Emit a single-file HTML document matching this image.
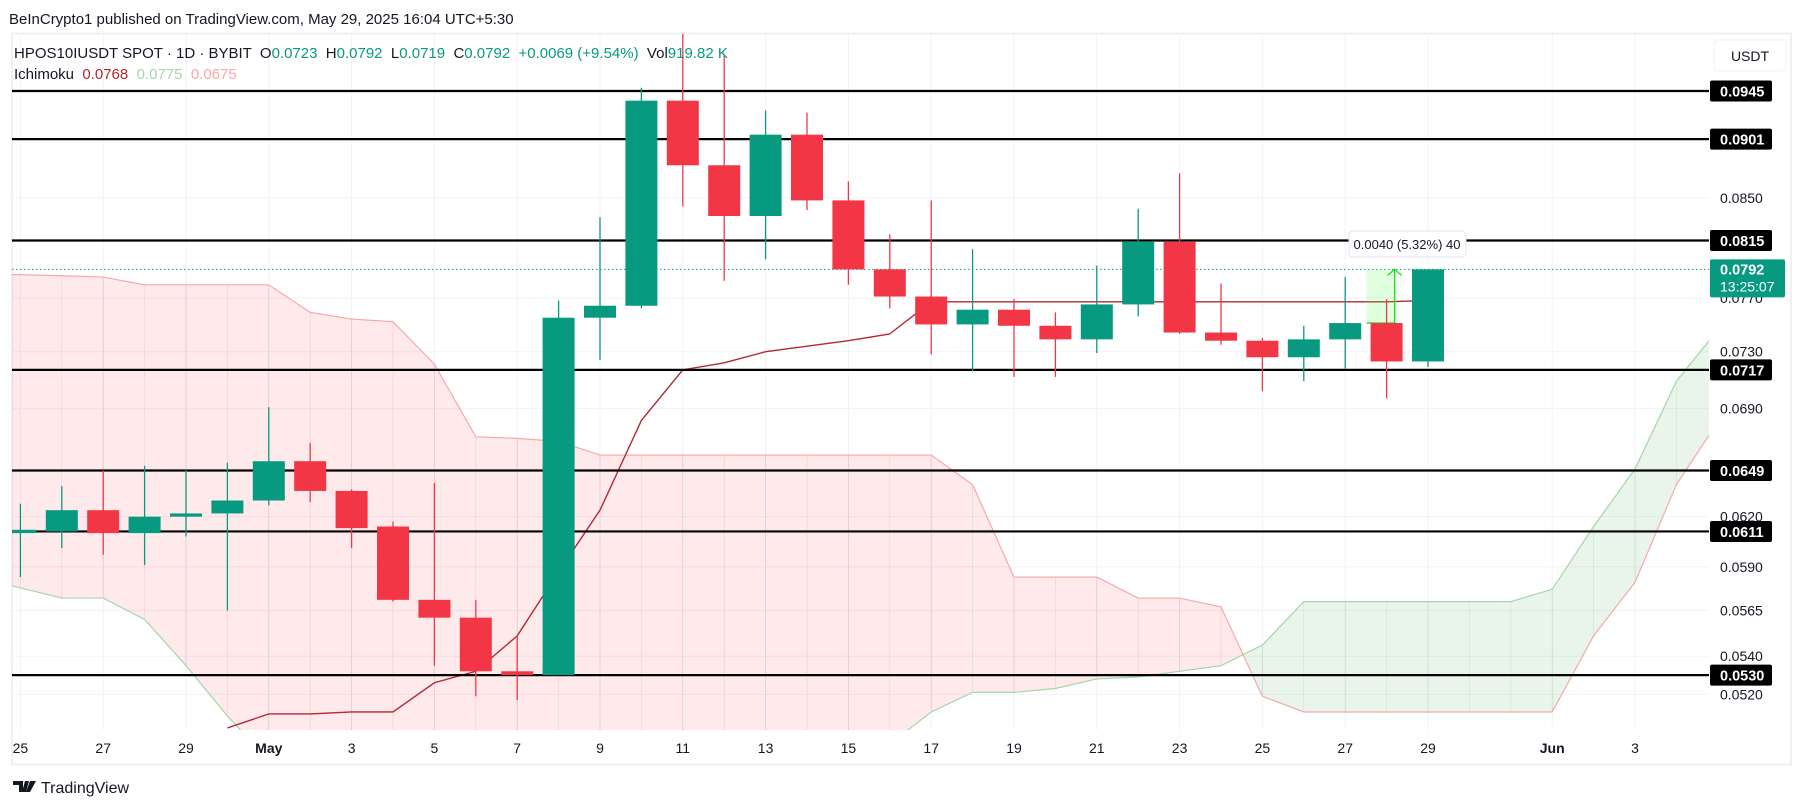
<!DOCTYPE html>
<html><head><meta charset="utf-8"><style>
body{margin:0;background:#fff;width:1804px;height:809px;overflow:hidden;font-family:"Liberation Sans",sans-serif}
svg{position:absolute;left:0;top:0}
.pre{white-space:pre}
</style></head><body>
<svg id="c" width="1804" height="809">
<defs><clipPath id="pc"><rect x="12" y="34" width="1697" height="696"/></clipPath></defs>
<text x="9" y="24" font-size="15" fill="#131722">BeInCrypto1 published on TradingView.com, May 29, 2025 16:04 UTC+5:30</text>
<rect x="12" y="33.5" width="1779" height="731" fill="none" stroke="#eef0f3" stroke-width="2"/>
<g id="grid"></g>
<g id="plot" clip-path="url(#pc)"></g>
<g id="axis"></g>
<text class="pre" x="14" y="58" font-size="15" fill="#131722">HPOS10IUSDT SPOT · 1D · BYBIT  O<tspan fill="#089981">0.0723</tspan>  H<tspan fill="#089981">0.0792</tspan>  L<tspan fill="#089981">0.0719</tspan>  C<tspan fill="#089981">0.0792  +0.0069 (+9.54%)</tspan>  Vol<tspan fill="#089981">919.82 K</tspan></text>
<text class="pre" x="14" y="79" font-size="15" fill="#131722">Ichimoku  <tspan fill="#b22833">0.0768</tspan>  <tspan fill="#a5d6a7">0.0775</tspan>  <tspan fill="#f7a9a7">0.0675</tspan></text>
<rect x="1714" y="40" width="72" height="31" rx="4" fill="#fff" stroke="#eef0f3"/>
<text x="1750" y="61" font-size="14" text-anchor="middle" fill="#131722">USDT</text>
<g><path d="M13 781h10v11h-4v-7h-6z M25 781h4l-3 11h-4z M30 781h6l-6 11h-4z" fill="#131722"/>
<text x="41" y="793" font-size="16" fill="#131722">TradingView</text></g>
</svg>
<script>
const dates=['25','27','29','May','3','5','7','9','11','13','15','17','19','21','23','25','27','29','Jun','3'];
const dateIdx=[0,2,4,6,8,10,12,14,16,18,20,22,24,26,28,30,32,34,37,39];
const openV=[.0610,.0611,.0624,.0610,.0620,.0622,.0630,.0655,.0636,.0614,.0571,.0561,.0532,.0530,.0755,.0764,.0936,.0878,.0835,.0905,.0848,.0792,.0771,.0750,.0761,.0749,.0739,.0765,.0814,.0744,.0738,.0726,.0739,.0751,.0723];
const highV=[.0628,.0639,.0649,.0652,.0650,.0654,.0691,.0667,.0637,.0617,.0641,.0571,.0551,.0768,.0834,.0948,.1000,.0980,.0927,.0925,.0864,.0820,.0848,.0808,.0769,.0759,.0795,.0841,.0871,.0781,.0740,.0749,.0786,.0769,.0792];
const lowV=[.0584,.0601,.0597,.0591,.0608,.0565,.0627,.0629,.0601,.0570,.0535,.0519,.0517,.0530,.0724,.0762,.0843,.0783,.0800,.0840,.0780,.0762,.0728,.0716,.0712,.0712,.0729,.0756,.0743,.0735,.0702,.0709,.0718,.0697,.0719];
const closeV=[.0612,.0624,.0610,.0620,.0622,.0630,.0655,.0636,.0613,.0571,.0561,.0532,.0530,.0755,.0764,.0936,.0878,.0835,.0905,.0848,.0792,.0771,.0750,.0761,.0749,.0739,.0765,.0814,.0744,.0738,.0726,.0739,.0751,.0723,.0792];
const kijun=[null,null,null,null,null,.0503,.0510,.0510,.0511,.0511,.0526,.0532,.0551,.0587,.0624,.0682,.0717,.0722,.0730,.0734,.0738,.0743,.0767,.0767,.0767,.0767,.0767,.0767,.0767,.0767,.0767,.0767,.0767,.0767,.0768];
const spanA=[.0579,.0572,.0572,.0560,.0535,.0509,.0487,.0476,.0471,.0471,.0471,.0471,.0471,.0471,.0471,.0471,.0471,.0471,.0471,.0471,.0481,.0495,.0511,.0521,.0521,.0523,.0528,.0529,.0532,.0535,.0546,.0570,.0570,.0570,.0570,.0570,.0570,.0577,.0614,.0650,.0709,.0746];
const spanB=[.0788,.0787,.0786,.0780,.0780,.0780,.0780,.0759,.0754,.0752,.0721,.0671,.0670,.0668,.0659,.0659,.0659,.0659,.0659,.0659,.0659,.0659,.0659,.0640,.0584,.0584,.0584,.0572,.0572,.0567,.0519,.0511,.0511,.0511,.0511,.0511,.0511,.0511,.0551,.0581,.0640,.0681];
const levels=[0.0945,0.0901,0.0815,0.0717,0.0649,0.0611,0.0530];
const ticks=['0.0850','0.0770','0.0730','0.0690','0.0620','0.0590','0.0565','0.0540','0.0520'];
const lastPrice=0.0792;
const NS='http://www.w3.org/2000/svg';
const X=d=>20.4+41.4*d;
const Y=v=>91+(Math.log(0.0945)-Math.log(v))*1010;
function mk(p,t,a){const e=document.createElementNS(NS,t);for(const k in a)e.setAttribute(k,a[k]);p.appendChild(e);return e;}
const grid=document.getElementById('grid'),plot=document.getElementById('plot'),axis=document.getElementById('axis');
ticks.forEach(t=>{const l=mk(grid,'line',{x1:12,x2:1709,y1:Y(+t),y2:Y(+t),stroke:'#f0f3fa'});


const tx=mk(axis,'text',{x:1720,y:Y(+t)+5,'font-size':14,fill:'#131722'});tx.textContent=t;

});
dates.forEach((s,i)=>{const x=X(dateIdx[i]);const l=mk(grid,'line',{x1:x,x2:x,y1:34,y2:730,stroke:'#f0f3fa'});


const bold=(s==='May'||s==='Jun');
const tx=mk(axis,'text',{x:x,y:753,'font-size':14,'text-anchor':'middle',fill:'#131722','font-weight':bold?'bold':'normal'});tx.textContent=s;

});
const x0=-0.2;
for(let i=0;i<spanA.length-1;i++){
 const a0=spanA[i],a1=spanA[i+1],b0=spanB[i],b1=spanB[i+1];
 const d0=i===0?x0:i, d1=i+1;
 const s0=a0-b0,s1=a1-b1;
 let segs=[];
 if(s0*s1<0){const t=s0/(s0-s1);const dm=i+t;const vm=a0+(a1-a0)*t;
  segs.push([[d0,a0],[dm,vm],[dm,vm],[d0,b0],s0>0]);segs.push([[dm,vm],[d1,a1],[d1,b1],[dm,vm],s1>0]);}
 else segs.push([[d0,a0],[d1,a1],[d1,b1],[d0,b0],(s0+s1)>0]);
 segs.forEach(g=>{const pts=g.slice(0,4).map(p=>X(p[0])+','+Y(p[1])).join(' ');
  const pg=mk(plot,'polygon',{points:pts,fill:g[4]?'rgba(76,175,80,0.12)':'rgba(242,54,69,0.11)',stroke:g[4]?'rgba(76,175,80,0.12)':'rgba(242,54,69,0.11)','stroke-width':0.5});
  
  });
}
function line(arr,color,name,w){const pts=[];arr.forEach((v,i)=>{if(v!=null)pts.push(X(i===0?x0:i)+','+Y(v));});
 const p=mk(plot,'polyline',{points:pts.join(' '),fill:'none',stroke:color,'stroke-width':w});
 
 }
line(spanA,'#a5d6a7','leading-span-a',1.2);
line(spanB,'#f7a9a7','leading-span-b',1.2);
line(kijun,'#b22833','base-line',1.4);
levels.forEach(v=>{const l=mk(plot,'line',{x1:12,x2:1709,y1:Y(v),y2:Y(v),stroke:'#000','stroke-width':2.2});

});
const lp=mk(plot,'line',{x1:12,x2:1709,y1:Y(lastPrice),y2:Y(lastPrice),stroke:'#089981','stroke-width':1,'stroke-dasharray':'1.5 2.5'});


const mr=mk(plot,'rect',{x:X(33)-20,y:Y(lastPrice),width:30,height:Y(.0751)-Y(lastPrice),fill:'rgba(76,255,80,0.18)'});


const ma=mk(plot,'path',{d:`M${X(33)+8} ${Y(.0751)}V${Y(lastPrice)}M${X(33)+1} ${Y(lastPrice)+6}L${X(33)+8} ${Y(lastPrice)}L${X(33)+15} ${Y(lastPrice)+6}M${X(33)-20} ${Y(.0751)}H${X(33)+10}`,stroke:'#22dd22','stroke-width':1.3,fill:'none'});


for(let i=0;i<openV.length;i++){const up=closeV[i]>=openV[i];const c=up?'#089981':'#f23645';const x=X(i);
 const w=mk(plot,'line',{x1:x,x2:x,y1:Y(highV[i]),y2:Y(lowV[i]),stroke:c,'stroke-width':1.3});
 
 
 const t=Y(Math.max(openV[i],closeV[i])),b=Y(Math.min(openV[i],closeV[i]));
 const r=mk(plot,'rect',{x:x-16,y:t,width:32,height:Math.max(1.5,b-t),fill:c});
 
 }
const tg=mk(axis,'g',{});


mk(tg,'rect',{x:1349,y:231,width:117,height:26,rx:4,fill:'#fff',stroke:'#e0e3eb'});
const tt=mk(tg,'text',{x:1407,y:249,'font-size':13,'text-anchor':'middle',fill:'#131722'});tt.textContent='0.0040 (5.32%) 40';
levels.forEach(v=>{const g=mk(axis,'g',{});
 
 
 mk(g,'rect',{x:1710,y:Y(v)-10.5,width:62,height:21,rx:2,fill:'#000'});
 const t=mk(g,'text',{x:1720,y:Y(v)+5.5,'font-size':14.5,'font-weight':'bold',fill:'#fff'});t.textContent=v.toFixed(4);});
const pg=mk(axis,'g',{});


mk(pg,'rect',{x:1710,y:Y(lastPrice)-10,width:75,height:38,rx:2,fill:'#089981'});
const t1=mk(pg,'text',{x:1720,y:Y(lastPrice)+5,'font-size':14.5,'font-weight':'bold',fill:'#fff'});t1.textContent=lastPrice.toFixed(4);
const t2=mk(pg,'text',{x:1720,y:Y(lastPrice)+22,'font-size':14,fill:'#fff'});t2.textContent='13:25:07';
</script>
</body></html>
